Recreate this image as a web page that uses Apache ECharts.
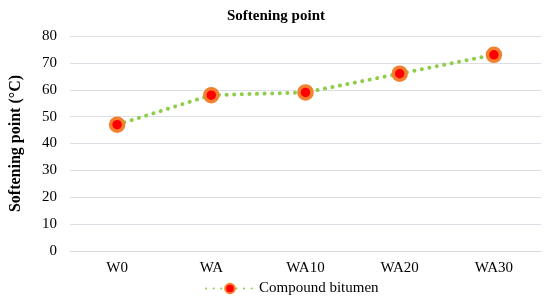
<!DOCTYPE html>
<html><head><meta charset="utf-8">
<script src="https://cdn.jsdelivr.net/npm/echarts@6/dist/echarts.min.js"></script>
<style>html,body{margin:0;padding:0;background:#fff}#c{width:550px;height:304px}</style>
</head><body><div id="c"></div>
<script>
var categories = ['W0', 'WA', 'WA10', 'WA20', 'WA30'];
var softening = [47, 58, 59, 66, 73];
var seriesName = 'Compound bitumen';
var titleText = 'Softening point';
var yName = 'Softening point (°C)';

var chart = echarts.init(document.getElementById('c'), null, {renderer: 'canvas'});
var serif = '"Liberation Serif", "Times New Roman", serif';
chart.setOption({
  animation: false,
  title: {text: titleText, left: 271, top: 4, textAlign: 'center',
    textStyle: {fontFamily: serif, fontWeight: 'bold', fontSize: 15, color: '#000'}},
  grid: {left: 67, right: 9, top: 36, bottom: 53, containLabel: false},
  legend: {data: [seriesName], left: 200, bottom: 3, itemWidth: 48, itemHeight: 12, itemGap: 6,
    textStyle: {fontFamily: serif, fontSize: 15, color: '#000'}},
  xAxis: {type: 'category', data: categories, boundaryGap: true,
    axisLine: {show: true, lineStyle: {color: '#d9d9d9', width: 1}},
    axisTick: {show: false},
    axisLabel: {fontFamily: serif, fontSize: 15, color: '#000', margin: 10}},
  yAxis: {type: 'value', min: 0, max: 80, interval: 10,
    name: yName, nameLocation: 'middle', nameGap: 46,
    nameTextStyle: {fontFamily: serif, fontWeight: 'bold', fontSize: 16, color: '#000'},
    axisLine: {show: false}, axisTick: {show: false},
    axisLabel: {fontFamily: serif, fontSize: 15, color: '#000', margin: 13}},
  series: [{
    name: seriesName, type: 'line', data: softening,
    symbol: 'circle', symbolSize: 13,
    itemStyle: {color: '#ff0000', borderColor: '#f4802f', borderWidth: 3.5},
    lineStyle: {color: '#8fce4a', width: 4, type: [0.1, 7.5], cap: 'round'}
  }]
});
</script></body></html>
